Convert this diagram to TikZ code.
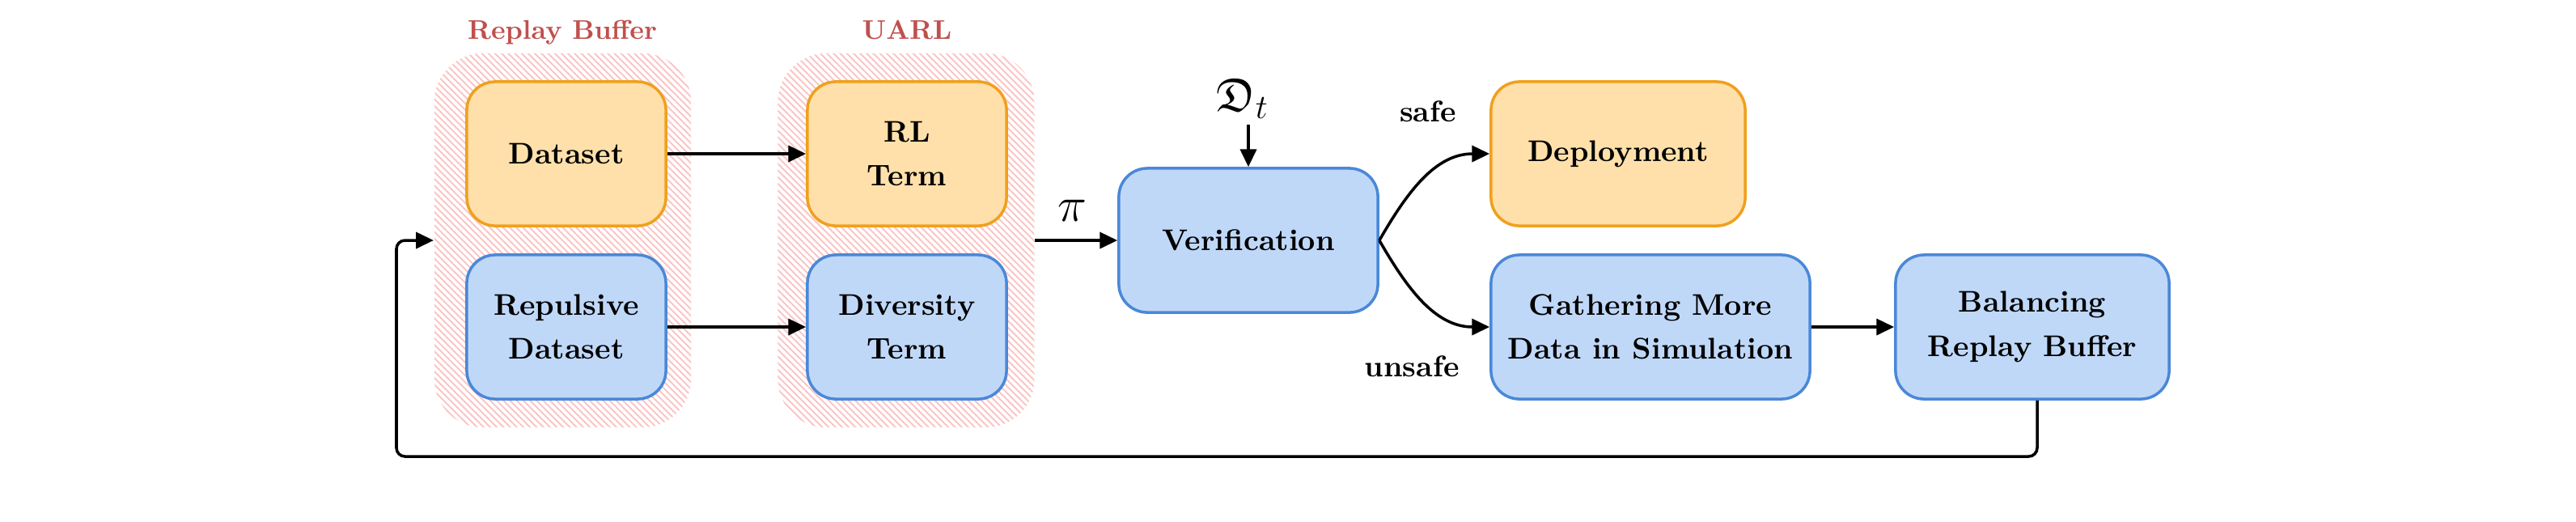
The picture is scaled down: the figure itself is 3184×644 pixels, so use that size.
\documentclass[tikz,border=0pt]{standalone}
\usepackage{amsfonts}
\usetikzlibrary{arrows.meta,patterns.meta}
\definecolor{orfill}{RGB}{255,224,170}
\definecolor{ordraw}{RGB}{240,160,30}
\definecolor{blfill}{RGB}{192,216,248}
\definecolor{bldraw}{RGB}{74,136,216}
\definecolor{ttlred}{RGB}{192,80,77}
\definecolor{hatchc}{RGB}{250,196,196}
\begin{document}
\begin{tikzpicture}[x=0.01cm,y=-0.01cm,
  box/.style={draw, line width=1pt, rounded corners=10pt, align=center,
    font=\fontsize{10.5}{15.5}\selectfont\bfseries, inner sep=0pt, minimum height=1.78cm},
  obox/.style={box, fill=orfill, draw=ordraw},
  bbox/.style={box, fill=blfill, draw=bldraw},
  hatchreg/.style={pattern={Lines[angle=-45,distance=1.65pt,line width=0.55pt]},
    pattern color=hatchc, rounded corners=17pt, minimum width=3.17cm,
    minimum height=4.62cm, inner sep=0pt},
  ttl/.style={text=ttlred, font=\fontsize{9.5}{11}\selectfont\bfseries, anchor=base},
  lbl/.style={font=\fontsize{10.5}{12}\selectfont\bfseries, anchor=base},
  mathlbl/.style={font=\fontsize{16.5}{18}\selectfont, anchor=base, inner sep=2pt},
  arr/.style={line width=1pt, -{Triangle[length=6.2pt,width=5.7pt]}},
]
\useasboundingbox (0,0) rectangle (3184,644);
% hatched groups
\node[hatchreg] (rb) at (695.5,297) {};
\node[hatchreg] (ua) at (1120,297) {};
\node[ttl] (rbt) at (695,48) {Replay Buffer};
\node[ttl] (uat) at (1121,48) {UARL};
% boxes
\node[obox, minimum width=2.46cm] (ds) at (700,190) {Dataset};
\node[bbox, minimum width=2.46cm] (rds) at (700,404) {Repulsive\\Dataset};
\node[obox, minimum width=2.46cm] (rl) at (1121,190) {RL\\Term};
\node[bbox, minimum width=2.46cm] (div) at (1121,404) {Diversity\\Term};
\node[bbox, minimum width=3.2cm] (ver) at (1543,297) {Verification};
\node[obox, minimum width=3.14cm] (dep) at (2000,190) {Deployment};
\node[bbox, minimum width=3.94cm] (gat) at (2040,404) {Gathering More\\Data in Simulation};
\node[bbox, minimum width=3.38cm] (bal) at (2512,404) {Balancing\\Replay Buffer};
% labels
\node[mathlbl] (pi) at (1325,273) {$\pi$};
\node[mathlbl] (dt) at (1536,137) {$\mathfrak{D}_t$};
\node[lbl] (safe) at (1765,150) {safe};
\node[lbl] (unsafe) at (1745,465) {unsafe};
\coordinate (fb) at (490,564);
% connectors
\draw[arr] (ds) -- (rl);
\draw[arr] (rds) -- (div);
\draw[arr] (ua.east) -- (ver.west);
\draw[arr] (ver.north |- dt.south) -- (ver.north);
\draw[arr] (ver.east) to[out=60,in=180] (dep.west);
\draw[arr] (ver.east) to[out=-60,in=180] (gat.west);
\draw[arr] (gat) -- (bal);
\draw[arr, rounded corners=3pt] ([xshift=0.06cm]bal.south) |- (fb) |- (rb.west);
\end{tikzpicture}
\end{document}
